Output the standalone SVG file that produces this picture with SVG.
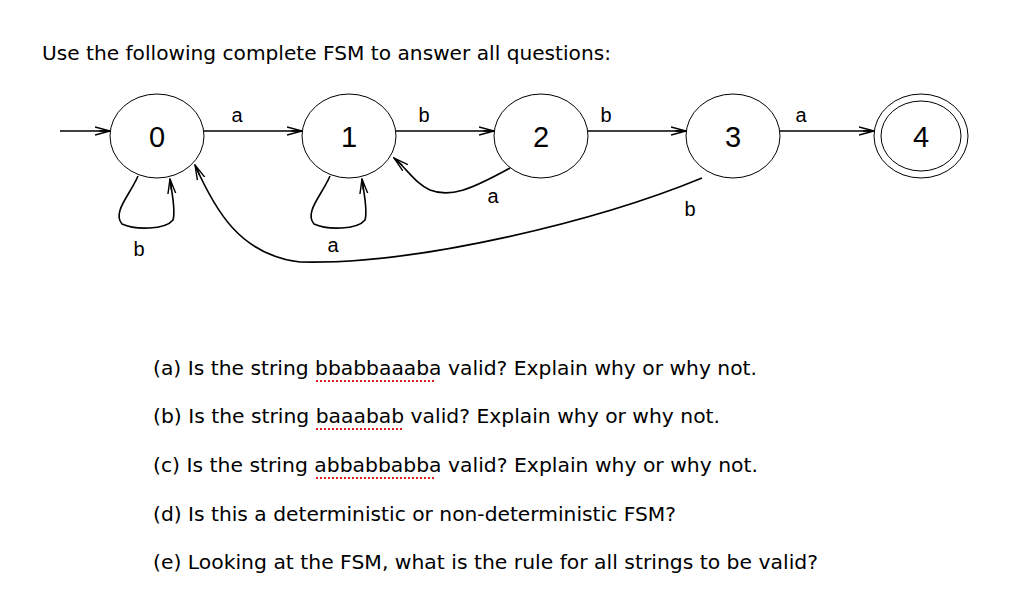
<svg xmlns="http://www.w3.org/2000/svg" width="1024" height="616" viewBox="0 0 1024 616">
<style>
.n{fill:#fff;stroke:#000;stroke-width:1}
.nl{font-family:"Liberation Sans",Arial,sans-serif;font-size:29px;text-anchor:middle}
.el{font-family:"Liberation Sans",Arial,sans-serif;font-size:20px;text-anchor:middle}
.e{fill:none;stroke:#000;stroke-width:1.6;marker-end:url(#ah)}
.q{font-family:"DejaVu Sans",sans-serif;font-size:19.5px}
.sq{stroke:#e02020;stroke-width:2;stroke-dasharray:2 2}
</style>
<defs><marker id="ah" markerWidth="16" markerHeight="10" refX="15" refY="5" orient="auto" markerUnits="userSpaceOnUse"><path d="M0,1 L15,5 L0,9 M4,5 L15,5" fill="none" stroke="#000" stroke-width="1.4"/></marker></defs>
<rect width="1024" height="616" fill="#fff"/>
<text x="42" y="60" class="q" style="font-size:20px" textLength="569" lengthAdjust="spacingAndGlyphs">Use the following complete FSM to answer all questions:</text>
<g id="edges">
<path class="e" d="M60,131 L110,131"/>
<path class="e" d="M204,131 L302,131"/>
<path class="e" d="M396,131 L494,131"/>
<path class="e" d="M588,131 L686,131"/>
<path class="e" d="M780,131 L874,131"/>
<path class="e" d="M138,176 C130,195 112,212 122,224 C135,230 165,230 173,220 C176,210 172,195 170,179"/>
<path class="e" d="M330,176 C322,195 304,212 314,224 C327,230 357,230 365,220 C368,210 364,195 362,179"/>
<path class="e" d="M510,168 C470,190 450,198 430,190 C415,183 408,170 394,158"/>
<path class="e" d="M702,178 C600,220 420,265 300,262 C240,255 215,210 195,165"/>
</g>
<g id="n0"><ellipse class="n" cx="157" cy="136" rx="47" ry="42"/><text class="nl" x="157" y="147">0</text></g>
<g id="n1"><ellipse class="n" cx="349" cy="136" rx="47" ry="42"/><text class="nl" x="349" y="147">1</text></g>
<g id="n2"><ellipse class="n" cx="541" cy="136" rx="47" ry="42"/><text class="nl" x="541" y="147">2</text></g>
<g id="n3"><ellipse class="n" cx="733" cy="136" rx="47" ry="42"/><text class="nl" x="733" y="147">3</text></g>
<g id="n4"><ellipse class="n" cx="921" cy="136" rx="47" ry="42"/><ellipse class="n" cx="921" cy="136" rx="40" ry="35"/><text class="nl" x="921" y="147">4</text></g>
<g id="labels">
<text class="el" x="237" y="122">a</text>
<text class="el" x="424" y="122">b</text>
<text class="el" x="606" y="122">b</text>
<text class="el" x="801" y="122">a</text>
<text class="el" x="139" y="256">b</text>
<text class="el" x="333" y="252">a</text>
<text class="el" x="493" y="203">a</text>
<text class="el" x="690" y="216">b</text>
</g>
<g id="questions">
<text class="q" x="153" y="375" textLength="604" lengthAdjust="spacingAndGlyphs">(a) Is the string bbabbaaaba valid?  Explain why or why not.</text>
<text class="q" x="153" y="423" textLength="567" lengthAdjust="spacingAndGlyphs">(b) Is the string baaabab valid?  Explain why or why not.</text>
<text class="q" x="153" y="472" textLength="605" lengthAdjust="spacingAndGlyphs">(c) Is the string abbabbabba valid?  Explain why or why not.</text>
<text class="q" x="153" y="521" textLength="523" lengthAdjust="spacingAndGlyphs">(d) Is this a deterministic or non-deterministic FSM?</text>
<text class="q" x="153" y="569" textLength="665" lengthAdjust="spacingAndGlyphs">(e) Looking at the FSM, what is the rule for all strings to be valid?</text>
<line class="sq" x1="316" y1="381" x2="436" y2="381"/>
<line class="sq" x1="316" y1="429" x2="403" y2="429"/>
<line class="sq" x1="316" y1="478" x2="436" y2="478"/>
</g>
</svg>
